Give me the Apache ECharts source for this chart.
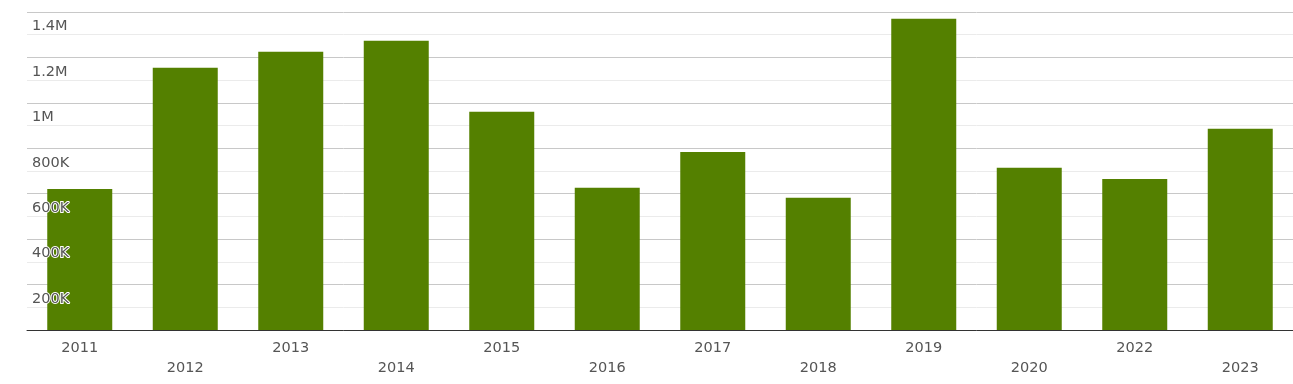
<!DOCTYPE html>
<html>
<head>
<meta charset="utf-8">
<script src="https://cdn.jsdelivr.net/npm/echarts@6/dist/echarts.min.js"></script>
<style>html,body{margin:0;padding:0;background:#fff}#c{width:1293px;height:384px}</style>
</head>
<body>
<div id="c"></div>
<script>
const years = ['2011','2012','2013','2014','2015','2016','2017','2018','2019','2020','2022','2023'];
const values = [621000, 1155000, 1225000, 1273000, 961000, 626000, 784000, 582000, 1370000, 714000, 665000, 886000];
const yTicks = {0:'', 200000:'200K', 400000:'400K', 600000:'600K', 800000:'800K', 1000000:'1M', 1200000:'1.2M', 1400000:'1.4M'};

const chart = echarts.init(document.getElementById('c'), null, {renderer:'canvas'});
const yBase = {
  type: 'value', min: 0, max: 1400000, interval: 200000,
  axisLine: {show: false}, axisTick: {show: false}
};
chart.setOption({
  animation: false,
  grid: {left: 27, right: 0, top: 12, bottom: 54, containLabel: false},
  xAxis: {
    type: 'category',
    data: years,
    z: 5,
    axisLine: {show: true, lineStyle: {color: '#333', width: 1}},
    axisTick: {show: false},
    axisLabel: {
      interval: 0,
      margin: 8,
      fontFamily: 'DejaVu Sans',
      fontSize: 14.5,
      color: '#555',
      lineHeight: 20,
      verticalAlign: 'top',
      formatter: (v, i) => (i % 2 ? '\n' + v : v)
    }
  },
  yAxis: [
    Object.assign({}, yBase, {
      z: 0,
      splitLine: {show: true, lineStyle: {color: '#c8c8c8', width: 1}},
      minorTick: {show: false, splitNumber: 2},
      minorSplitLine: {show: true, lineStyle: {color: '#ebebeb', width: 1}},
      axisLabel: {show: false}
    }),
    Object.assign({}, yBase, {
      position: 'left',
      z: 10,
      splitLine: {show: false},
      axisLabel: {
        inside: true,
        margin: 5,
        fontFamily: 'DejaVu Sans',
        fontSize: 14.5,
        color: '#555',
        verticalAlign: 'top',
        lineHeight: 29,
        textBorderColor: '#fff',
        textBorderWidth: 2,
        formatter: v => (yTicks[v] !== undefined ? yTicks[v] : '')
      }
    })
  ],
  series: [{
    type: 'bar',
    data: values,
    barWidth: 65,
    yAxisIndex: 0,
    itemStyle: {color: '#548000'},
    z: 2
  }]
});
</script>
</body>
</html>
